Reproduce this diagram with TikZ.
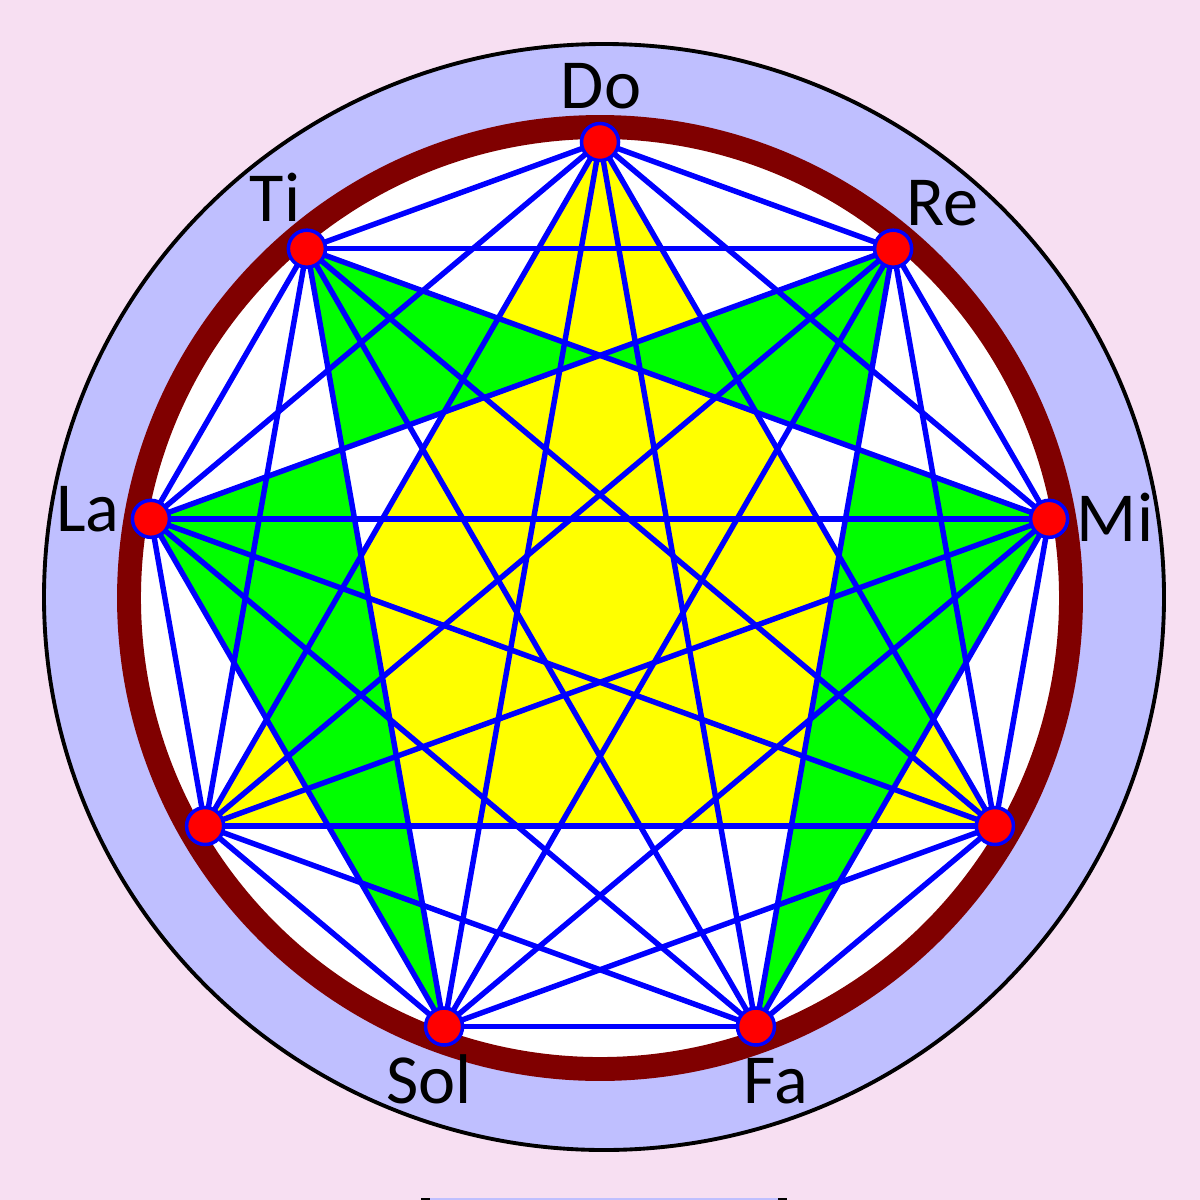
\documentclass[tikz,border=0pt]{standalone}
\usepackage{fontspec}
\setmainfont{Carlito}
\usetikzlibrary{calc}
\definecolor{bgpink}{RGB}{247,223,242}
\definecolor{lav}{RGB}{191,191,255}
\definecolor{ringred}{RGB}{128,0,0}
\definecolor{vgreen}{RGB}{0,255,0}
\definecolor{vyellow}{RGB}{255,255,0}
\definecolor{vblue}{RGB}{0,0,255}
\begin{document}
\begin{tikzpicture}[x=0.01cm,y=-0.01cm,
  edge/.style={draw=vblue, line width=1.55pt, line cap=round},
  vdot/.style={circle, fill=red, draw=vblue, line width=1pt, minimum size=0.37cm, inner sep=0pt},
  lbl/.style={font=\fontsize{20}{24}\selectfont, anchor=base, inner sep=0pt}]
\useasboundingbox (0,0) rectangle (1200,1200);
\fill[bgpink] (0,0) rectangle (1200,1200);
% outer lavender disc
\filldraw[fill=lav, draw=black, line width=1.1pt] (604,597) ellipse [x radius=560, y radius=553];
% white inner disc
\fill[white] (600,598) circle [radius=471];
% vertices
\foreach \k in {0,...,8} {
  \coordinate (v\k) at ($(600,598)+({-90+40*\k}:456)$);
}
% coloured regions
\fill[vyellow] (v0) -- (v3) -- (v6) -- cycle;
\fill[vgreen] (v7) -- (v5) -- (v8) -- (v2) -- (v4) -- (v1) -- cycle;
% all chords
\foreach \i in {0,...,8} {
  \foreach \j in {0,...,8} {
    \ifnum\i<\j \draw[edge] (v\i) -- (v\j); \fi
  }
}
% ring
\draw[ringred, line width=6.8pt] (600,598) circle [radius=471];
% dots
\foreach \k in {0,...,8} {
  \node[vdot] (d\k) at (v\k) {};
}
% labels
\node[lbl] (lDo) at (601,108) {Do};
\node[lbl] (lRe) at (942,225) {Re};
\node[lbl] (lMi) at (1115,541) {Mi};
\node[lbl] (lFa) at (776,1103) {Fa};
\node[lbl] (lSol) at (429,1103) {Sol};
\node[lbl] (lLa) at (88,531) {La};
\node[lbl] (lTi) at (275,221) {Ti};
% partial shape at bottom edge
\fill[lav] (428,1197.5) rectangle (780,1200);
\fill[black] (421,1197.5) rectangle (430,1200);
\fill[black] (778,1197.5) rectangle (787,1200);
\end{tikzpicture}
\end{document}
